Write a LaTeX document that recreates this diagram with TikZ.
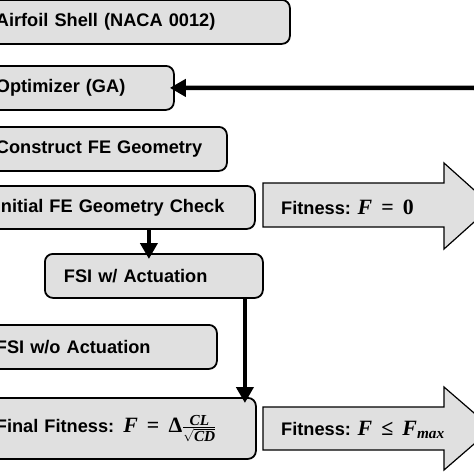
\RequirePackage{fix-cm}
\documentclass[tikz,border=0pt]{standalone}
\usepackage{amsmath}
\usepackage[no-math]{fontspec}
\setmainfont{Liberation Sans}
\newfontfamily\mserif[Scale=1.2]{Liberation Serif}
\newcommand\mi[1]{\text{\mserif\bfseries\itshape #1}}
\newcommand\mb[1]{\text{\mserif\bfseries #1}}
\newcommand\mrel[1]{\mathrel{\mkern4mu\mb{#1}\mkern4mu}}
\usetikzlibrary{arrows.meta}
\definecolor{boxfill}{RGB}{224,224,224}
\tikzset{
  box/.style={draw=black, line width=1.8pt, fill=boxfill, rounded corners=8pt,
    anchor=north west, align=left, inner xsep=19pt, inner ysep=0pt,
    font=\fontsize{18.2}{22}\selectfont\bfseries},
  flow/.style={line width=4.5pt, -{Triangle[length=16pt,width=17pt]}},
  fitarrow/.style={draw=black, line width=1.2pt, fill=boxfill, line join=miter},
  fittext/.style={anchor=west, inner sep=0pt, font=\fontsize{18.2}{22}\selectfont\bfseries}
}
\newcommand\flowbox[6]{%
  \pgfmathsetmacro\bw{#4-#2-38}%
  \pgfmathsetmacro\bh{#5-#3}%
  \node[box, minimum height=\bh pt, text width=\bw pt] (#1) at (#2,#3) {#6};}
\begin{document}
\begin{tikzpicture}[x=1pt,y=-1pt]
  \fill[white] (0,0) rectangle (474,474);
  \useasboundingbox (0,0) rectangle (474,474);
  \flowbox{airfoil}{-24}{-1}{289}{43}{Airfoil Shell (NACA 0012)}
  \flowbox{optimizer}{-24}{65}{173}{109}{Optimizer (GA)}
  \flowbox{construct}{-24}{126}{226}{170}{Construct FE Geometry}
  \flowbox{initial}{-24}{185}{254}{228}{Initial FE Geometry Check}
  \flowbox{fsiw}{44}{253}{262}{297}{FSI w/ Actuation}
  \flowbox{fsiwo}{-24}{324}{216}{368}{FSI w/o Actuation}
  \flowbox{final}{-24}{397}{255}{458}{Final Fitness: $\mi{F}\mrel{=}\mb{Δ}\frac{\mi{CL}}{\sqrt{\mi{CD}}}$}
  % fitness arrows
  \draw[fitarrow] (263,183) -- (444,183) -- (444,163) -- (492,206) -- (444,249) -- (444,227) -- (263,227) -- cycle;
  \node[fittext] (fit0) at (281,207) {Fitness: $\mi{F}\mrel{=}\mb{0}$};
  \draw[fitarrow] (263,407) -- (444,407) -- (444,387) -- (492,428.5) -- (444,470) -- (444,450) -- (263,450) -- cycle;
  \node[fittext] (fitmax) at (281,430) {Fitness: $\mi{F}\mrel{≤}\mi{F}_{\mi{max}}$};
  % connectors
  \coordinate (optsrc) at (480,88);
  \draw[flow, shorten >=-5pt] (optsrc) -- (optimizer.east);
  \draw[flow, shorten >=-6pt] ([xshift=33pt]initial.south) -- ([xshift=-5pt]fsiw.north);
  \draw[flow, shorten >=-6pt] ([xshift=91pt]fsiw.south) -- ([xshift=128.5pt]final.north);
\end{tikzpicture}
\end{document}
